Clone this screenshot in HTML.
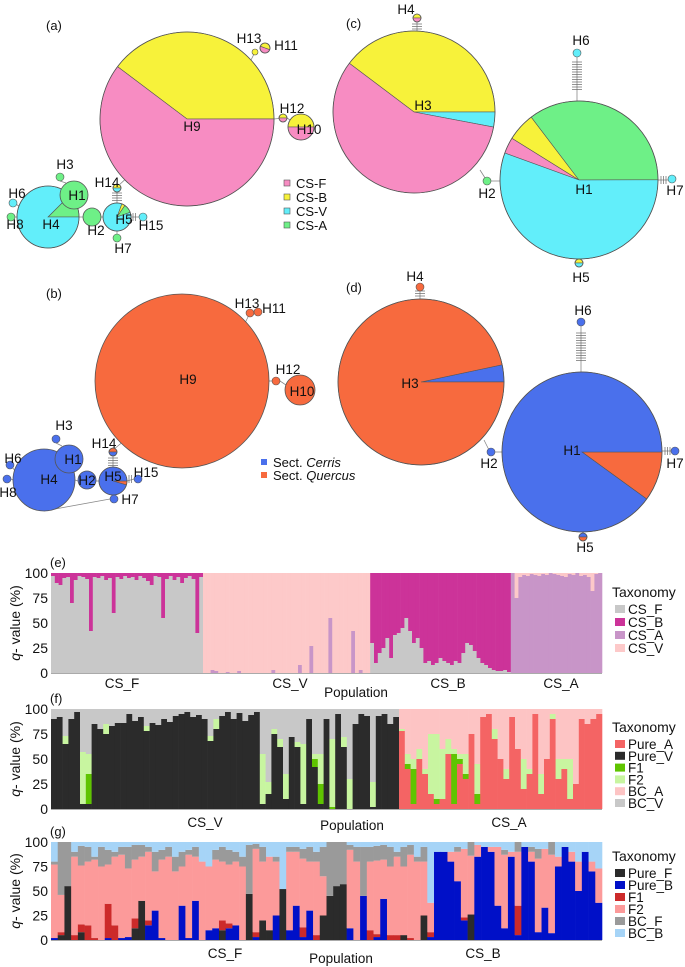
<!DOCTYPE html>
<html><head><meta charset="utf-8"><style>
body{margin:0;background:#fff}
svg{display:block;font-family:"Liberation Sans",Arial,sans-serif}
text{fill:#111}
</style></head><body>
<svg id="fig" width="685" height="967" viewBox="0 0 685 967" xmlns="http://www.w3.org/2000/svg">
<g id="nets"></g>
<g id="bars"></g>
</svg>
<script>
const PK="#f78cc2",YL="#f7f23a",CY="#62eefa",GR="#6ef087",OR="#f76a3e",BL="#4a70ec";
// ---------- haplotype network data: name,cx,cy,r,slices,startAngle ----------
const pieA = [
 ["H9",187,119,87,[[0.397,YL],[0.603,PK]],-143],
 ["H10",301,127,13,[[0.5,YL],[0.5,PK]],-180],
 ["H12",283,118,4,[[0.5,YL],[0.5,PK]],-180],
 ["H11",265,48,5,[[0.5,YL],[0.5,PK]],-160],
 ["H4",48,217,31,[[0.125,GR],[0.875,CY]],-45],
 ["H1",74,195,14,[[1,GR]],0],
 ["H2",92,217,9,[[1,GR]],0],
 ["H5",117,217,14,[[0.04,YL],[0.1,GR],[0.86,CY]],-70],
 ["H14",117,188,4,[[0.5,YL],[0.5,CY]],-180],
 ["H3",414,112,81,[[0.397,YL],[0.03,CY],[0.573,PK]],-143],
 ["H1",579,180,79,[[0.033,PK],[0.058,YL],[0.353,GR],[0.556,CY]],-160],
 ["H4",417,18,4,[[0.5,YL],[0.5,PK]],-180],
 ["H5",579,263,4,[[0.5,YL],[0.5,CY]],-180]
];
const pieB = [
 ["H9",182,381,87,[[1,OR]],0],
 ["H10",300,390,15,[[1,OR]],0],
 ["H4",44,480,31,[[1,BL]],0],
 ["H1",69,459,14,[[1,BL]],0],
 ["H2",87,480,9,[[1,BL]],0],
 ["H5",113,481,14,[[0.045,OR],[0.955,BL]],0],
 ["H14",113,452,4,[[0.5,OR],[0.5,BL]],-180],
 ["H3",421,382,83,[[0.033,BL],[0.967,OR]],-12],
 ["H1",582,452,80,[[0.1,OR],[0.9,BL]],0],
 ["H5",583,537,4,[[0.5,BL],[0.5,OR]],-180]
];
const dotsA=[[255,52,3,YL],[60,177,4,GR],[13,203,4,CY],[11,217,4,GR],[143,217,4,CY],[117,238,4,GR],[577,53,4,CY],[672,179,4,CY],[487,181,4,GR]];
const dotsB=[[250,313,4,OR],[258,312,4,OR],[276,381,4,OR],[56,439,4,BL],[10,465,4,BL],[7,479,4,BL],[138,479,4,BL],[114,499,4,BL],[420,287,4,OR],[581,322,4,BL],[675,451,4,BL],[491,452,4,BL]];
const labels=[["H9",192,126],["H10",309,129],["H12",292,108],["H13",249,38],["H11",286,45],["H3",65,164],["H1",77,195],["H6",17,193],["H8",15,224],["H4",51,224],["H2",96,230],["H5",124,219],["H14",107,182],["H15",151,225],["H7",123,248],
["H4",406,9],["H3",423,105],["H6",581,40],["H1",584,189],["H7",675,190],["H2",487,193],["H5",581,277],
["H9",188,379],["H13",247,303],["H11",274,308],["H12",288,369],["H10",302,391],["H3",64,425],["H1",73,459],["H6",13,458],["H8",8,492],["H4",49,479],["H2",87,480],["H5",113,476],["H14",104,443],["H15",146,472],["H7",130,499],
["H4",415,276],["H3",410,383],["H6",583,310],["H1",572,450],["H7",675,463],["H2",489,463],["H5",585,547]];
const panelTags=[["(a)",46,30],["(c)",346,28],["(b)",46,298],["(d)",346,292]];
const NS="http://www.w3.org/2000/svg";
function mk(tag,attrs,parent){const e=document.createElementNS(NS,tag);for(const k in attrs)e.setAttribute(k,attrs[k]);parent.appendChild(e);return e;}
const nets=document.getElementById('nets');
const links=[[274,119,283,118],[287,118,296,124],[250,62,255,52],[130,175,118,186],[79,217,83,217],[101,217,103,217],[131,217,139,217],[117,203,117,192],[117,231,117,234],[66,183,60,181],[20,207,16,204],[17,217,15,217],
[480,170,487,181],[491,181,500,181],[577,57,577,101],[658,180,668,180],[417,22,417,31],
[269,381,276,381],[280,381,286,385],[245,323,250,313],[125,440,113,450],[75,480,78,481],[96,481,99,481],[127,481,134,479],[113,467,113,456],[113,495,113,495],[62,446,56,443],[16,472,12,467],[13,480,11,479],[44,511,110,499],
[484,440,489,450],[495,452,502,452],[581,326,581,372],[662,451,671,451],[420,291,420,299],[583,532,583,533]];
links.forEach(l=>{const e=mk('line',{x1:l[0],y1:l[1],x2:l[2],y2:l[3],stroke:"#888","stroke-width":0.8},nets);

});
[[577,62,90],[417,24,31],[117,193,201],[581,333,362],[420,291,298],[113,458,466]].forEach(h=>{for(let y=h[1];y<h[2];y+=2.5){mk('line',{x1:h[0]-5,y1:y,x2:h[0]+5,y2:y,stroke:"#666","stroke-width":0.7},nets);}});
[[661,668,180],[665,671,451],[133,138,217],[129,134,479]].forEach(h=>{for(let x=h[0];x<h[1];x+=2.5){mk('line',{x1:x,y1:h[2]-4,x2:x,y2:h[2]+4,stroke:"#666","stroke-width":0.7},nets);}});
function pie(p){
  const [nm,cx,cy,r,sl,start]=p; let a=start;
  const g=mk('g',{},nets);
  
  
  if(sl.length===1){mk('circle',{cx,cy,r,fill:sl[0][1],stroke:"#555","stroke-width":0.8},g);return;}
  sl.forEach(s=>{const a1=a+s[0]*360;const r0=a*Math.PI/180,r1=a1*Math.PI/180;
    const large=s[0]>0.5?1:0;
    mk('path',{d:`M${cx},${cy} L${cx+r*Math.cos(r0)},${cy+r*Math.sin(r0)} A${r},${r} 0 ${large} 1 ${cx+r*Math.cos(r1)},${cy+r*Math.sin(r1)} Z`,fill:s[1],stroke:"#555","stroke-width":0.6},g);a=a1;});
  mk('circle',{cx,cy,r,fill:"none",stroke:"#555","stroke-width":0.8},g);
}
pieA.forEach(pie);pieB.forEach(pie);
dotsA.concat(dotsB).forEach(d=>{const c=mk('circle',{cx:d[0],cy:d[1],r:d[2],fill:d[3],stroke:"#555","stroke-width":0.6},nets);

});
labels.forEach(l=>{const t=mk('text',{x:l[1],y:l[2]+5,"font-size":13.5,"text-anchor":"middle"},nets);t.textContent=l[0];

});
panelTags.forEach(l=>{const t=mk('text',{x:l[1],y:l[2],"font-size":13},nets);t.textContent=l[0];

});
[["CS-F",PK],["CS-B",YL],["CS-V",CY],["CS-A",GR]].forEach((d,i)=>{
 const g=mk('g',{},nets);
 
 
 mk('rect',{x:284,y:180+i*14,width:6,height:6,fill:d[1],stroke:"#555","stroke-width":0.6},g);
 const t=mk('text',{x:296,y:188+i*14,"font-size":13},g);t.textContent=d[0];});
[["Sect. ","Cerris",BL],["Sect. ","Quercus",OR]].forEach((d,i)=>{
 const g=mk('g',{},nets);
 
 
 mk('rect',{x:261,y:459+i*13,width:6,height:6,fill:d[2]},g);
 const t=mk('text',{x:273,y:467+i*13,"font-size":13},g);t.textContent=d[0];
 const it=mk('tspan',{"font-style":"italic"},t);it.textContent=d[1];});

// ---------- structure plot data ----------
const eF=[97,90,88,95,96,70,93,97,96,94,42,96,95,97,93,95,60,96,94,97,95,96,93,97,95,92,88,97,96,55,94,97,93,96,90,95,97,94,40,96];
const eV=[0,0,3,2,0,0,1,0,0,2,0,0,0,0,0,0,0,0,3,0,0,0,0,0,0,8,0,0,27,0,0,0,0,55,0,0,0,0,0,42,0,3,0,0];
const eB=[30,10,20,25,35,15,38,40,45,55,42,30,35,25,10,12,8,10,15,12,10,8,12,10,20,30,28,22,15,10,8,5,3,2,2,3,1];
const eA=[100,75,96,98,97,99,98,97,99,98,100,99,98,97,96,99,98,100,97,98,96,82,99,100];
const fV=[[90,0,0],[92,0,0],[65,0,8],[90,0,0],[97,0,0],[5,0,52],[5,30,20],[85,0,0],[80,0,0],[75,0,10],[83,0,0],[86,0,0],[86,0,0],[95,0,0],[88,0,0],[92,0,0],[78,0,5],[86,0,0],[84,0,0],[90,0,0],[87,0,0],[93,0,0],[95,0,0],[97,0,0],[92,0,0],[94,0,0],[90,0,0],[68,0,5],[80,0,10],[93,0,0],[97,0,0],[90,0,0],[96,0,0],[88,0,0],[94,0,0],[97,0,0],[5,0,50],[15,0,12],[75,0,5],[62,0,8],[10,0,25],[72,0,0],[62,0,5],[5,0,60],[90,0,0],[42,8,5],[5,20,30],[90,0,0],[0,2,68],[95,0,0],[62,0,10],[0,0,30],[85,0,0],[95,0,0],[93,0,0],[2,0,25],[93,0,0],[95,0,0],[85,0,0],[92,0,0]];
const fA=[[78,0,2],[40,5,10],[5,35,10],[50,0,10],[35,0,5],[15,0,60],[5,5,65],[10,0,50],[55,0,15],[5,50,5],[45,5,5],[30,5,20],[75,0,0],[5,10,30],[92,0,0],[95,0,0],[70,0,10],[50,0,0],[30,0,10],[92,0,0],[60,0,0],[20,0,30],[35,0,5],[95,0,0],[15,0,20],[50,0,0],[90,0,5],[30,0,20],[40,0,10],[10,0,40],[25,0,0],[90,0,0],[85,0,0],[90,0,0],[95,0,0]];
const gBars=[[0,2,0,75,3],[5,0,3,38,54],[55,0,0,0,45],[0,0,5,80,5],[8,0,8,60,20],[0,0,15,65,15],[0,0,2,80,3],[0,0,0,75,20],[0,2,35,40,15],[0,0,15,70,5],[0,2,0,85,8],[0,3,0,70,22],[12,0,10,60,15],[40,0,0,45,12],[0,15,5,70,5],[0,30,0,40,20],[0,2,0,80,10],[0,0,0,85,10],[0,0,0,70,15],[0,35,0,40,15],[0,2,0,85,5],[0,40,0,45,10],[0,0,0,80,0],[0,10,0,65,0],[0,12,0,70,10],[10,0,10,60,15],[0,12,5,60,15],[0,15,0,65,10],[0,0,0,75,10],[47,0,0,0,50],[0,3,5,85,5],[20,0,0,60,15],[10,0,0,75,0],[0,25,0,55,5],[52,0,0,0,0],[0,10,0,80,5],[0,35,0,55,5],[0,3,10,70,10],[0,30,0,50,15],[0,0,5,75,10],[25,0,0,40,30],[45,0,0,0,55],[55,0,0,0,45],[57,0,0,0,43],[0,12,0,80,5],[0,0,0,80,15],[0,45,0,0,50],[0,0,10,70,15],[0,3,3,75,15],[0,42,0,40,15],[0,0,5,70,20],[0,0,5,80,5],[5,0,0,70,20],[0,0,2,85,10],[0,0,0,80,5],[25,0,0,55,15],[0,3,5,30,0],[0,90,0,0,0],[0,90,0,0,0],[0,80,0,10,0],[0,60,0,30,5],[0,20,3,70,0],[26,0,0,60,14],[0,85,0,12,0],[0,95,0,0,0],[0,90,0,5,0],[0,35,0,60,0],[0,12,0,75,5],[0,85,0,5,0],[0,5,30,55,10],[0,95,0,0,0],[0,80,0,10,5],[0,8,0,75,10],[0,33,0,60,0],[0,7,0,80,13],[0,75,0,10,0],[0,95,0,0,0],[0,80,0,10,0],[0,50,0,30,0],[0,90,0,0,0],[0,70,0,10,0],[0,38,0,35,0]];
const ticks=[0,25,50,75,100];

const bars=document.getElementById('bars');
const X0=51,X1=602;
function yScale(top,bot){return v=>bot-(bot-top)*v/100;}
function panel(o){
  const {name,top,bot,groups,legY,legStep,legend,xlabels,labY,popX,popY,tag}=o;
  const y=yScale(top,bot);
  const g=mk('g',{},bars);
  
  
  const n=groups.reduce((s,gr)=>s+gr.stacks.length,0);
  const w=(X1-X0)/n; let i=0;
  groups.forEach(gr=>{gr.stacks.forEach(st=>{
    let acc=0;
    st.forEach((seg,k)=>{ if(seg<=0)return;
      const r=mk('rect',{x:X0+i*w,y:y(acc+seg),width:w+0.3,height:y(acc)-y(acc+seg),fill:gr.colors[k]},g);
      
      
      acc+=seg;});
    if(acc<100){const r=mk('rect',{x:X0+i*w,y:y(100),width:w+0.3,height:y(acc)-y(100),fill:gr.colors[st.length]},g);
      
      }
    i++;});});
  mk('line',{x1:X0,y1:bot+0.5,x2:X1,y2:bot+0.5,stroke:"#aaa","stroke-width":1},g);
  ticks.forEach(t=>{const tx=mk('text',{x:X0-3,y:y(t)+5,"font-size":14,"text-anchor":"end"},g);tx.textContent=t;
    
    });
  const yt=mk('text',{transform:`translate(20,${(top+bot)/2}) rotate(-90)`,"font-size":14,"text-anchor":"middle"},g);
  
  
  const q=mk('tspan',{"font-style":"italic"},yt);q.textContent="q";
  const rest=mk('tspan',{},yt);rest.textContent="- value (%)";
  const tg=mk('text',{x:50,y:top-6,"font-size":13},g);tg.textContent=tag;
  
  
  const lt=mk('text',{x:612,y:legY-12,"font-size":14},g);lt.textContent="Taxonomy";
  
  
  legend.forEach((l,k)=>{const lg=mk('g',{},g);
    
    
    const cy=legY+k*legStep;
    mk('rect',{x:615,y:cy-4,width:10,height:8,fill:l[1]},lg);
    const t=mk('text',{x:628,y:cy+5,"font-size":13.5},lg);t.textContent=l[0];});
  xlabels.forEach(l=>{const t=mk('text',{x:l[1],y:labY,"font-size":13.5,"text-anchor":"middle"},g);t.textContent=l[0];
    
    });
  const p=mk('text',{x:popX,y:popY,"font-size":13.5,"text-anchor":"middle"},g);p.textContent="Population";
  
  
}
const cGrey="#c8c8c8",cMag="#cc3399",cPur="#c895c8",cPink="#fdc9c9";
panel({name:'e',top:573,bot:673,groups:[
  {stacks:eF.map(v=>[v]),colors:[cGrey,cMag]},
  {stacks:eV.map(v=>[v]),colors:[cPur,cPink]},
  {stacks:eB.map(v=>[v]),colors:[cGrey,cMag]},
  {stacks:eA.map(v=>[v]),colors:[cPur,cPink]}],
  legY:609,legStep:13,legend:[["CS_F",cGrey],["CS_B",cMag],["CS_A",cPur],["CS_V",cPink]],
  xlabels:[["CS_F",122],["CS_V",290],["CS_B",448],["CS_A",561]],labY:688,popX:356,popY:697,tag:"(e)"});
panel({name:'f',top:709,bot:809,groups:[
  {stacks:fV,colors:["#2b2b2b","#5fc400","#c8f5a0","#c8c8c8"]},
  {stacks:fA,colors:["#f46464","#5fc400","#c8f5a0","#fdc4c4"]}],
  legY:744,legStep:11.8,legend:[["Pure_A","#f46464"],["Pure_V","#2b2b2b"],["F1","#5fc400"],["F2","#c8f5a0"],["BC_A","#fdc4c4"],["BC_V","#c8c8c8"]],
  xlabels:[["CS_V",205],["CS_A",509]],labY:827,popX:352,popY:830,tag:"(f)"});
panel({name:'g',top:842,bot:940,groups:[
  {stacks:gBars,colors:["#2b2b2b","#0010c8","#cc2a2a","#fc9a9a","#9a9a9a","#a6d4f7"]}],
  legY:873,legStep:12,legend:[["Pure_F","#2b2b2b"],["Pure_B","#0010c8"],["F1","#cc2a2a"],["F2","#fc9a9a"],["BC_F","#9a9a9a"],["BC_B","#a6d4f7"]],
  xlabels:[["CS_F",225],["CS_B",483]],labY:958,popX:341,popY:963,tag:"(g)"});
</script>
</body></html>
